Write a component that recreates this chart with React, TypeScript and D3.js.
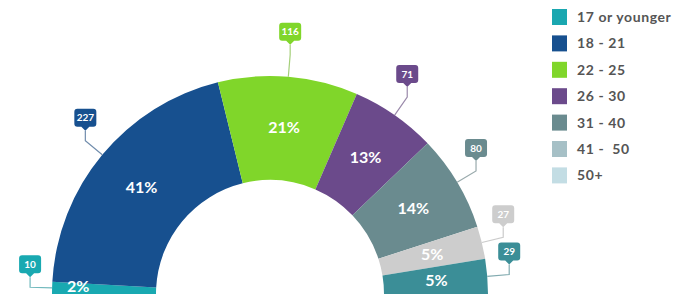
import React from 'react';
import * as d3 from 'd3';

const categories = ['17 or younger', '18 - 21', '22 - 25', '26 - 30', '31 - 40', '41 -  50', '50+'];
const values = [10, 227, 116, 71, 80, 27, 29];
const sliceColors = ['#19a9b1', '#17508f', '#80d62a', '#6b4a8b', '#6a8b8f', '#cdcdcd', '#3b8e97'];
const legendColors = ['#1aa7b0', '#17508f', '#80d62a', '#6b4a8b', '#6a8b8f', '#a6c0c6', '#c3dde4'];

const W = 696;
const H = 300;
const cx = 270;
const cy = 294;
const R = 218;
const r0 = 114;

export default function App() {
  const total = d3.sum(values);
  const pie = d3
    .pie<number>()
    .sort(null)
    .startAngle(-Math.PI / 2)
    .endAngle(Math.PI / 2)
    .padAngle(0);
  const arcs = pie(values);
  const arc = d3.arc<d3.PieArcDatum<number>>().innerRadius(r0).outerRadius(R);
  const font = 'Lato, "DejaVu Sans", sans-serif';

  return (
    <svg width={W} height={H} style={{ position: 'absolute', left: 0, top: 0 }} fontFamily={font}>
      <g transform={`translate(${cx},${cy})`}>
        {arcs.map((a, i) => (
          <path key={i} d={arc(a) || ''} fill={sliceColors[i]} />
        ))}
        {arcs.map((a, i) => {
          const mid = (a.startAngle + a.endAngle) / 2;
          const small = a.endAngle - a.startAngle < 0.1;
          const lr = small ? R - 26 : 167;
          const x = lr * Math.sin(mid);
          const y = Math.min(-lr * Math.cos(mid), -8);
          return (
            <text
              key={'p' + i}
              x={x}
              y={y}
              dy="0.36em"
              textAnchor="middle"
              fill="#fff"
              fontWeight="bold"
              fontSize={16}
            >
              {Math.round((values[i] / total) * 100) + '%'}
            </text>
          );
        })}
        {arcs.map((a, i) => {
          const mid = (a.startAngle + a.endAngle) / 2;
          const sx = R * Math.sin(mid);
          const sy = -R * Math.cos(mid);
          const ex = (R + 22) * Math.sin(mid);
          const ey = -(R + 22) * Math.cos(mid);
          const tipY = ey - 10;
          const bw = 22;
          const bh = 18;
          const by = tipY - 4 - bh;
          const lineCol = d3.interpolateRgb(sliceColors[i], '#c8c8c8')(0.5);
          const boxPath =
            `M${ex - bw / 2 + 3},${by} h${bw - 6} q3,0 3,3 v${bh - 6} q0,3 -3,3 ` +
            `h${-(bw / 2 - 3 - 4)} l-4,4 l-4,-4 h${-(bw / 2 - 3 - 4)} q-3,0 -3,-3 v${-(bh - 6)} q0,-3 3,-3 z`;
          return (
            <g key={'c' + i}>
              <polyline
                points={`${sx},${sy} ${ex},${ey} ${ex},${tipY}`}
                fill="none"
                stroke={lineCol}
                strokeWidth={1.2}
              />
              <path d={boxPath} fill={sliceColors[i]} />
              <text
                x={ex}
                y={by + bh / 2}
                dy="0.36em"
                textAnchor="middle"
                fill="#fff"
                fontWeight="bold"
                fontSize={10}
              >
                {values[i]}
              </text>
            </g>
          );
        })}
      </g>
      <g transform="translate(552,9)">
        {categories.map((c, i) => (
          <g key={'l' + i} transform={`translate(0,${i * 26.4})`}>
            <rect x={0} y={0} width={15} height={16} fill={legendColors[i]} />
            <text
              x={25}
              y={8}
              dy="0.36em"
              fill="#555"
              fontSize={14}
              fontWeight="bold"
              letterSpacing={0.6}
              style={{ whiteSpace: 'pre' }}
            >
              {c}
            </text>
          </g>
        ))}
      </g>
    </svg>
  );
}
